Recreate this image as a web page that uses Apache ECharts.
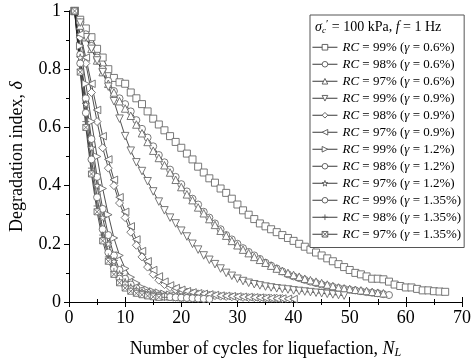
<!DOCTYPE html>
<html><head><meta charset="utf-8">
<script src="https://cdn.jsdelivr.net/npm/echarts@6/dist/echarts.min.js"></script>
<style>html,body{margin:0;padding:0;background:#fff}#c{width:474px;height:364px}</style>
</head><body><div id="c"></div>
<script>
// Degradation index δ per cycle (N = 1, 2, 3, ...)
const rc99g06 = [1.0,0.97,0.94,0.91,0.87,0.84,0.80,0.77,0.755,0.75,0.72,0.70,0.68,0.655,0.63,0.61,0.59,0.57,0.55,0.53,0.51,0.49,0.465,0.445,0.425,0.41,0.39,0.375,0.355,0.335,0.315,0.30,0.285,0.27,0.26,0.25,0.24,0.23,0.22,0.21,0.20,0.19,0.18,0.17,0.16,0.15,0.14,0.13,0.12,0.11,0.10,0.095,0.088,0.08,0.08,0.078,0.07,0.06,0.055,0.05,0.05,0.045,0.04,0.04,0.037,0.036,0.035];
const rc98g06 = [1,0.96,0.92,0.88,0.84,0.80,0.76,0.725,0.70,0.68,0.655,0.625,0.595,0.565,0.535,0.505,0.48,0.455,0.43,0.405,0.38,0.355,0.335,0.31,0.29,0.27,0.25,0.23,0.215,0.2,0.185,0.172,0.16,0.148,0.135,0.125,0.115,0.105,0.095,0.088,0.082,0.076,0.07,0.065,0.06,0.056,0.052,0.048,0.045,0.042,0.04,0.037,0.034,0.032,0.03,0.027,0.024];
const rc97g06 = [1,0.95,0.91,0.87,0.83,0.79,0.75,0.72,0.69,0.665,0.64,0.61,0.58,0.55,0.52,0.495,0.47,0.445,0.42,0.395,0.37,0.35,0.325,0.305,0.285,0.265,0.245,0.228,0.21,0.195,0.18,0.168,0.155,0.145,0.135,0.125,0.115,0.107,0.1,0.093,0.087,0.08,0.075,0.07,0.065,0.06,0.055,0.05,0.047,0.045,0.042,0.04,0.038,0.035,0.032,0.03];
const rc99g09 = [1,0.96,0.91,0.87,0.83,0.79,0.74,0.69,0.63,0.57,0.52,0.48,0.45,0.415,0.38,0.345,0.315,0.29,0.27,0.245,0.225,0.2,0.18,0.16,0.145,0.13,0.115,0.1,0.09,0.08,0.072,0.066,0.061,0.057,0.053,0.05,0.047,0.045,0.043,0.04,0.038,0.036,0.034,0.032,0.03,0.028,0.026,0.024,0.022];
const rc98g09 = [1,0.91,0.82,0.72,0.62,0.53,0.46,0.40,0.34,0.29,0.24,0.195,0.155,0.12,0.095,0.075,0.06,0.05,0.043,0.038,0.034,0.031,0.028,0.026,0.024,0.022,0.02,0.019,0.018,0.017,0.016,0.015,0.015,0.014,0.014,0.013,0.013,0.012];
const rc97g09 = [1,0.92,0.84,0.75,0.66,0.57,0.49,0.42,0.36,0.31,0.26,0.215,0.175,0.14,0.11,0.088,0.07,0.057,0.048,0.042,0.037,0.033,0.03,0.028,0.026,0.024,0.022,0.021,0.02,0.019,0.018,0.017,0.016,0.015,0.014,0.013,0.012,0.012,0.011,0.01];
const rc99g12 = [1,0.88,0.75,0.62,0.5,0.39,0.3,0.22,0.16,0.115,0.085,0.065,0.05,0.042,0.036,0.032,0.028,0.025,0.022,0.02,0.018,0.016,0.015,0.014,0.013];
const rc98g12 = [1,0.85,0.7,0.56,0.43,0.32,0.23,0.16,0.11,0.08,0.06,0.047,0.038,0.032,0.027,0.023,0.02,0.018,0.016,0.015,0.014,0.013];
const rc97g12 = [1,0.84,0.68,0.53,0.4,0.29,0.2,0.14,0.095,0.068,0.05,0.04,0.033,0.028,0.024,0.021,0.019,0.017,0.016,0.015];
const rc99g135 = [1,0.82,0.65,0.49,0.36,0.25,0.17,0.115,0.08,0.058,0.044,0.035,0.029,0.025,0.022,0.02,0.018,0.017,0.016,0.015,0.014,0.013,0.012,0.011,0.01];
const rc98g135 = [1,0.8,0.62,0.46,0.33,0.23,0.155,0.105,0.072,0.052,0.04,0.032,0.027,0.023,0.02,0.018,0.016];
const rc97g135 = [1,0.79,0.6,0.44,0.31,0.21,0.14,0.095,0.066,0.048,0.037,0.03,0.025,0.021,0.018,0.016];

const seriesNames = ['RC = 99% (γ = 0.6%)','RC = 98% (γ = 0.6%)','RC = 97% (γ = 0.6%)','RC = 99% (γ = 0.9%)','RC = 98% (γ = 0.9%)','RC = 97% (γ = 0.9%)','RC = 99% (γ = 1.2%)','RC = 98% (γ = 1.2%)','RC = 97% (γ = 1.2%)','RC = 99% (γ = 1.35%)','RC = 98% (γ = 1.35%)','RC = 97% (γ = 1.35%)'];
const seriesData = [rc99g06,rc98g06,rc97g06,rc99g09,rc98g09,rc97g09,rc99g12,rc98g12,rc97g12,rc99g135,rc98g135,rc97g135];
const xTicks = [0,10,20,30,40,50,60,70];
const yTicks = [0,0.2,0.4,0.6,0.8,1];

const FONT = 'Liberation Serif';
const star = 'path://M50,0L61,35L98,35L68,57L79,91L50,70L21,91L32,57L2,35L39,35Z';
const plus = 'path://M0,50L100,50M50,0L50,100';
const xsq = 'path://M0,0L100,0L100,100L0,100ZM0,0L100,100M100,0L0,100';
const markers = [
  {s:'rect',r:0,z:7},{s:'circle',r:0,z:7},{s:'triangle',r:0,z:7.5},
  {s:'triangle',r:180,z:7.5},{s:'diamond',r:0,z:8},{s:'triangle',r:90,z:7.5},
  {s:'triangle',r:-90,z:7.5},{s:'circle',r:0,z:7},{s:star,r:0,z:7.5},
  {s:'circle',r:0,z:7},{s:plus,r:0,z:7},{s:xsq,r:0,z:6}
];

const series = seriesData.map((arr,k)=>({
  type:'line', name:seriesNames[k],
  data: arr.map((v,i)=>[i+1,v]),
  symbol: markers[k].s, symbolRotate: markers[k].r, symbolSize: markers[k].z,
  showAllSymbol:true,
  lineStyle:{color:'#222',width:0.8},
  itemStyle:{color:'#fff',borderColor:'#6a6a6a',borderWidth:0.9},
  emphasis:{disabled:true}, animation:false, z:2
}));

const chart = echarts.init(document.getElementById('c'),null,{renderer:'canvas'});
const axisCommon = {
  axisLine:{lineStyle:{color:'#000',width:1}},
  splitLine:{show:false}
};
chart.setOption({
  animation:false,
  grid:{left:67,right:11,top:11,bottom:60,containLabel:false},
  xAxis:[
    Object.assign({type:'value',min:0,max:70,interval:10,position:'bottom',
      name:'Number of cycles for liquefaction, {i|N}{s|L}', nameLocation:'middle', nameGap:37,
      nameTextStyle:{fontFamily:FONT,fontSize:18,color:'#000',rich:{i:{fontFamily:FONT,fontSize:18,fontStyle:'italic'},s:{fontFamily:FONT,fontSize:12,fontStyle:'italic',padding:[8,0,0,0]}}},
      axisTick:{inside:true,length:5,lineStyle:{color:'#000'}},
      minorTick:{show:true,splitNumber:2,length:3,lineStyle:{color:'#000'}},
      axisLabel:{fontFamily:FONT,fontSize:18,color:'#000',margin:7,formatter:v=>xTicks.includes(v)?String(v):''}
    },axisCommon),
    Object.assign({type:'value',min:0,max:70,interval:10,position:'top',
      axisTick:{inside:true,length:5,lineStyle:{color:'#000'}},
      minorTick:{show:true,splitNumber:2,length:3,lineStyle:{color:'#000'}},
      axisLabel:{show:false}
    },axisCommon)
  ],
  yAxis:[
    Object.assign({type:'value',min:0,max:1,interval:0.2,position:'left',
      name:'Degradation index, {i|δ}', nameLocation:'middle', nameGap:43,
      nameTextStyle:{fontFamily:FONT,fontSize:18,color:'#000',rich:{i:{fontFamily:FONT,fontSize:18,fontStyle:'italic'}}},
      axisTick:{inside:false,length:5,lineStyle:{color:'#000'}},
      minorTick:{show:true,splitNumber:2,length:3,lineStyle:{color:'#000'}},
      axisLabel:{fontFamily:FONT,fontSize:18,color:'#000',margin:8,
        formatter:v=>{const t=yTicks.find(y=>Math.abs(y-v)<1e-9);return t===undefined?'':(t===0?'0':t===1?'1':t.toFixed(1));}}
    },axisCommon),
    Object.assign({type:'value',min:0,max:1,interval:0.2,position:'right',
      axisTick:{inside:true,length:5,lineStyle:{color:'#000'}},
      minorTick:{show:true,splitNumber:2,length:3,lineStyle:{color:'#000'}},
      axisLabel:{show:false}
    },axisCommon)
  ],
  legend:{
    orient:'vertical', left:310, top:15,
    padding:[24,3,5,2], itemGap:0.5, itemWidth:25, itemHeight:7,
    backgroundColor:'#fff', borderColor:'#555', borderWidth:1,
    data:seriesNames,
    itemStyle:{color:'#fff',borderColor:'#555',borderWidth:0.9},
    lineStyle:{color:'#222',width:0.9},
    formatter:n=>n.replace('RC','{i|RC}').replace('γ','{i|γ}'),
    textStyle:{fontFamily:FONT,fontSize:13,color:'#000',lineHeight:16.5,
      rich:{i:{fontFamily:FONT,fontSize:13,fontStyle:'italic',lineHeight:16.5}}},
    selectedMode:false, z:5
  },
  graphic:[{
    type:'text', left:315, top:19, z:100,
    style:{
      text:'{i|σ}{s|c}{p|′} = 100 kPa, {i|f} = 1 Hz',
      font:'14px '+FONT, fill:'#000',
      rich:{i:{fontFamily:FONT,fontSize:14,fontStyle:'italic'},
            s:{fontFamily:FONT,fontSize:9,fontStyle:'italic',padding:[7,0,0,0]},
            p:{fontFamily:FONT,fontSize:11,padding:[0,0,6,0]}}
    }
  }],
  series: series
});
</script></body></html>
